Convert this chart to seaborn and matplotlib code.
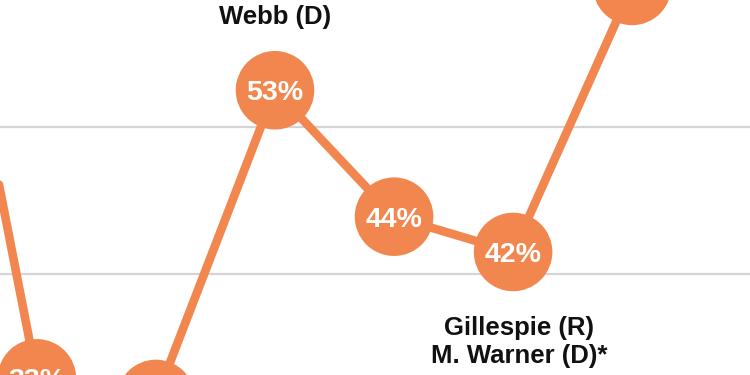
import seaborn as sns
import pandas as pd
import matplotlib.pyplot as plt

# values (only part of it is visible)
idx = [0, 1, 2, 3, 4, 5, 6]
share = [74.3, 32.9, 31.5, 52.5, 43.9, 41.5, 59.6]
labels = ['74%', '33%', '32%', '53%', '44%', '42%', '60%']
names = {3: ('Webb (D)', 'above'), 5: ('Gillespie (R)\nM. Warner (D)*', 'below')}

df = pd.DataFrame({'idx': idx, 'share': share, 'label': labels})

orange = '#F2864F'

sns.set_style('white')
plt.rcParams['font.family'] = ['Liberation Sans', 'DejaVu Sans']

fig = plt.figure(figsize=(7.5, 3.75), dpi=100)
ax = fig.add_axes([0, 0, 1, 1])

for g in [40, 50]:
    ax.axhline(g, color='#d4d4d4', lw=1.6, zorder=0)

sns.lineplot(data=df, x='idx', y='share', color=orange, lw=6.2, ax=ax, zorder=2)
sns.scatterplot(data=df, x='idx', y='share', color=orange, s=3200,
                edgecolor='none', ax=ax, zorder=3)

for _, r in df.iterrows():
    ax.text(r['idx'], r['share'] - 0.2, r['label'], color='white', fontsize=20.5,
            fontweight='bold', ha='center', va='center', zorder=4)

for i, (txt, pos) in names.items():
    if pos == 'above':
        ax.text(i, share[i] + 5.0, txt, fontsize=18.5, fontweight='bold',
                color='#111111', ha='center', va='center')
    else:
        ax.text(i + 0.05, share[i] - 6.1, txt, fontsize=18.5, fontweight='bold',
                color='#111111', ha='center', va='center', linespacing=1.2)

ax.set_xlim(0.69, 6.99)
ax.set_ylim(33.13, 58.64)
ax.axis('off')

fig.savefig('out.png', dpi=100)
